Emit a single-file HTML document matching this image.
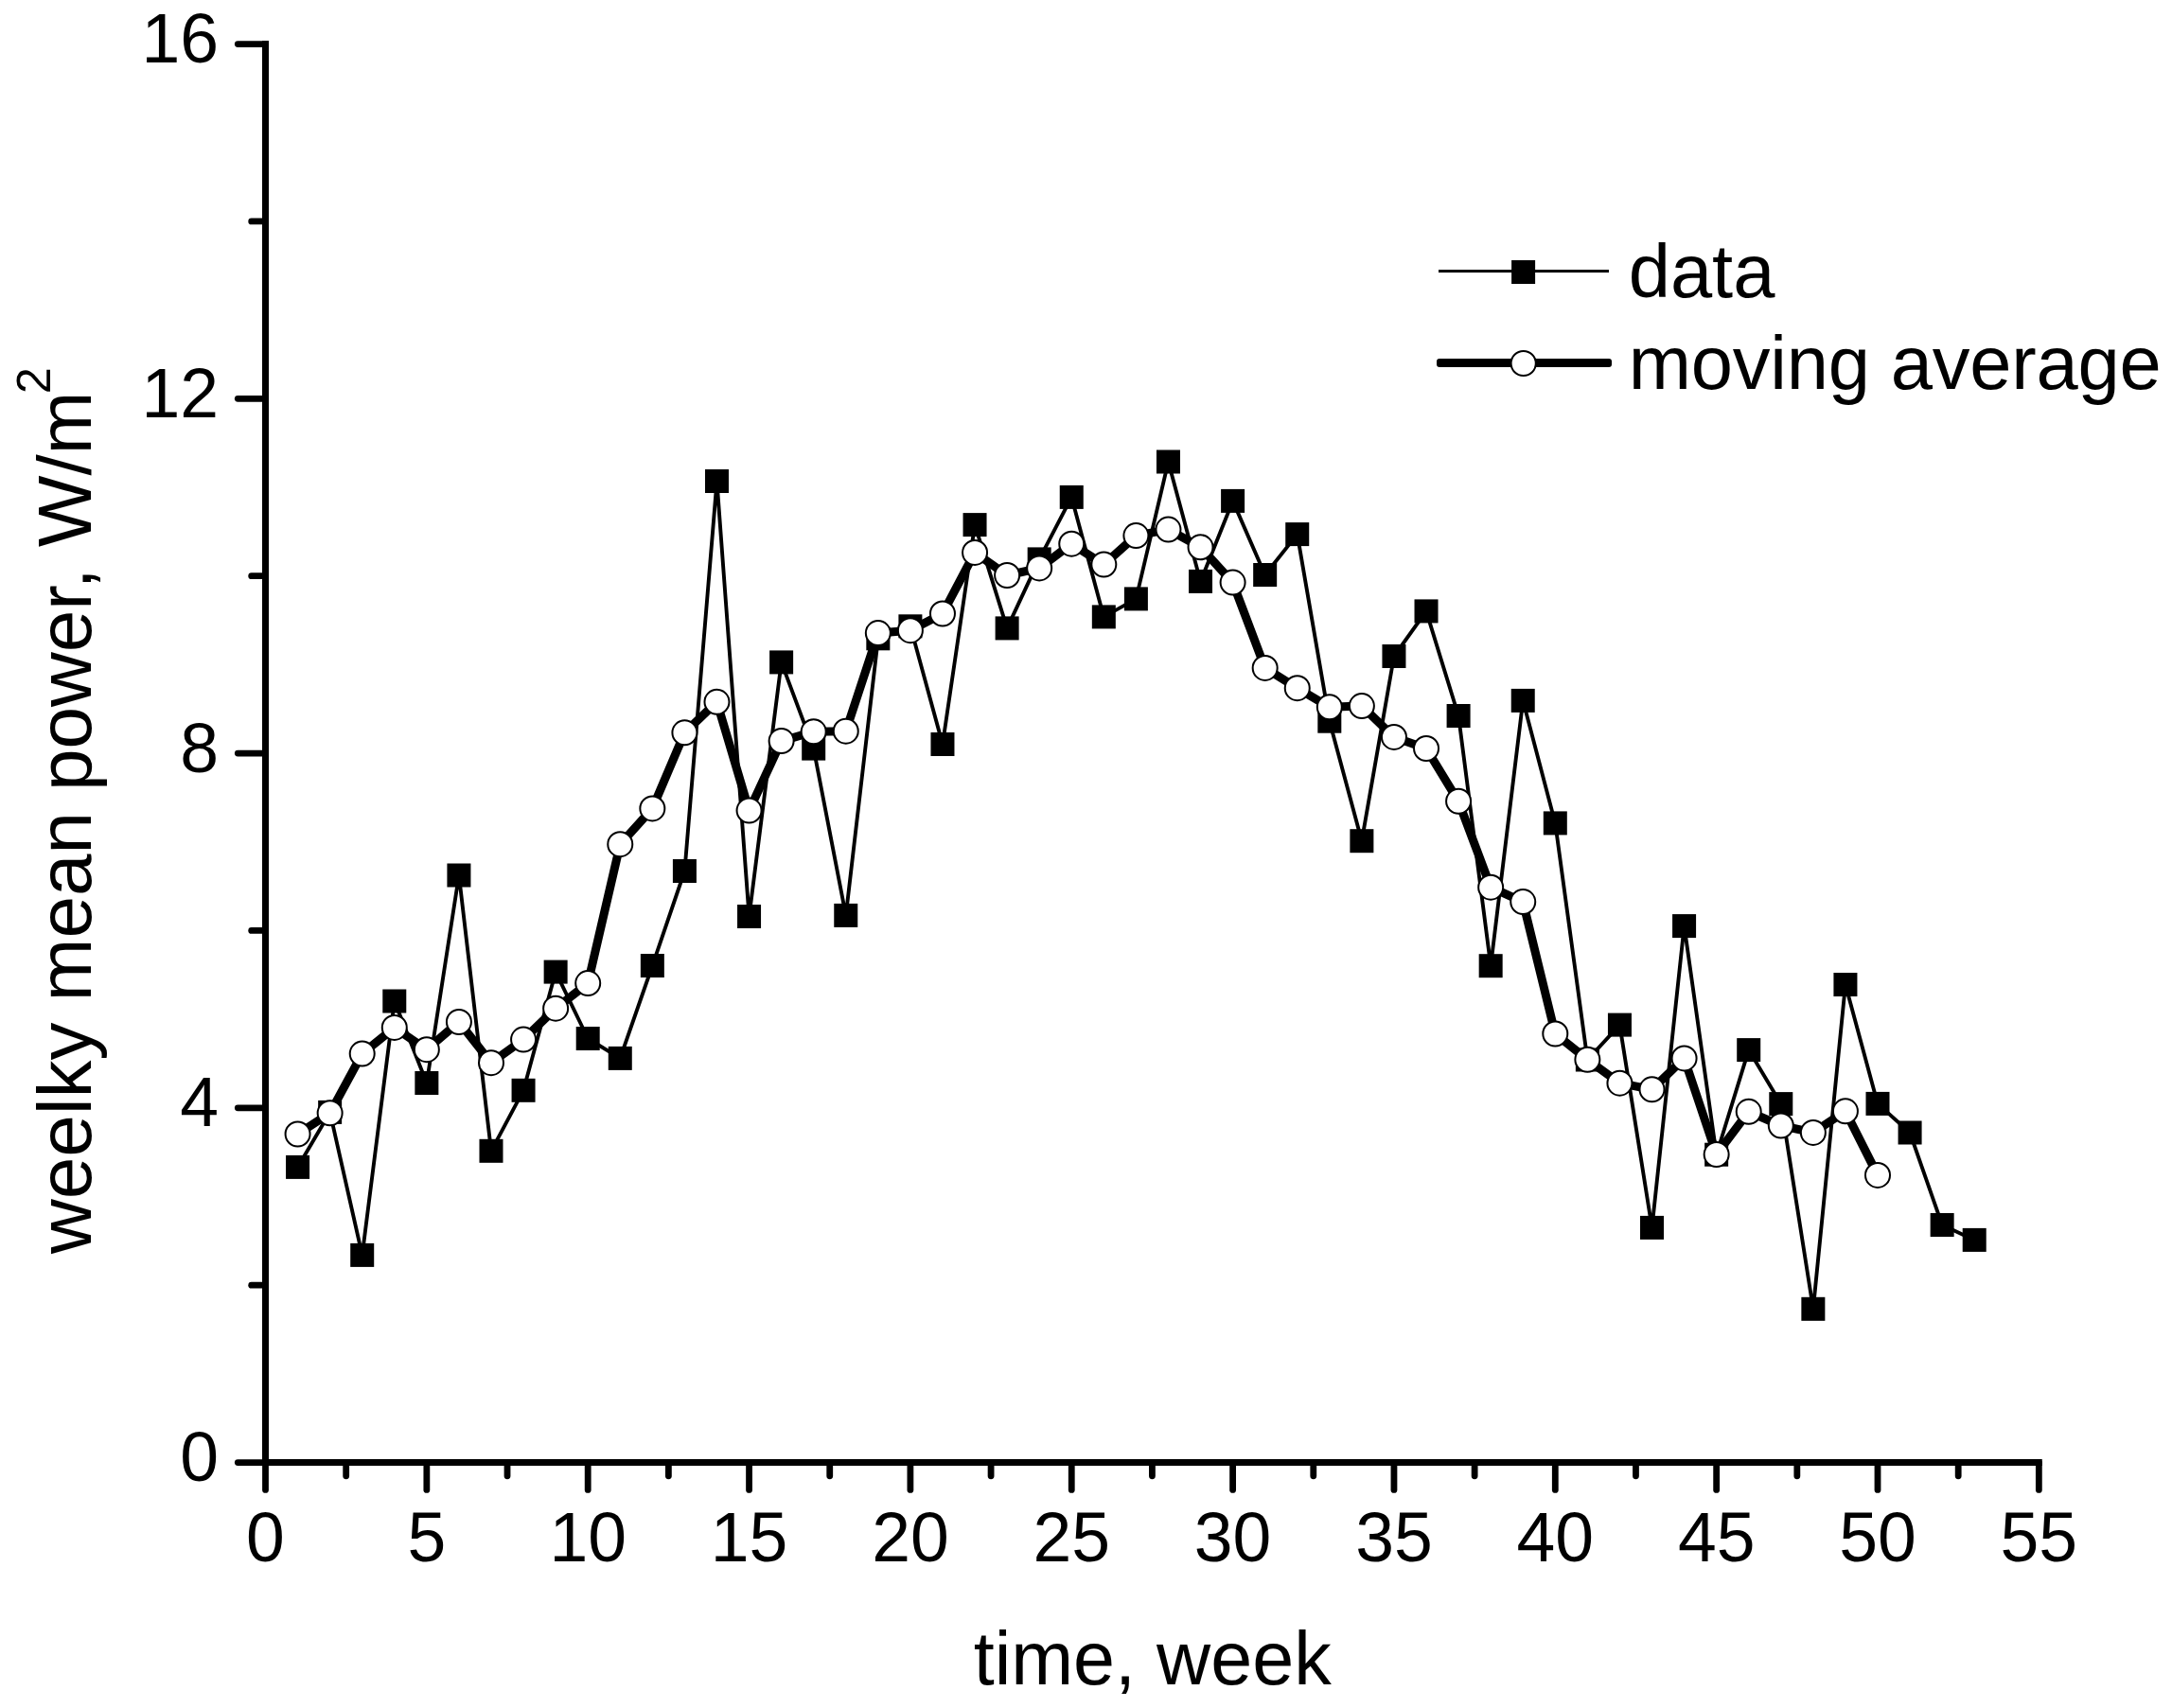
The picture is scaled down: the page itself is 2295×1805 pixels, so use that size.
<!DOCTYPE html>
<html lang="en">
<head>
<meta charset="utf-8">
<title>weekly mean power</title>
<style>
html,body{margin:0;padding:0;background:#fff;}
body{width:2295px;height:1805px;overflow:hidden;}
svg{display:block;}
text{font-family:"Liberation Sans",sans-serif;fill:#000;}
.tk{font-size:73.3px;}
.tt{font-size:80px;}
.lg{font-size:79.5px;}
.sp{font-size:50.4px;}
</style>
</head>
<body>
<svg width="2295" height="1805" viewBox="0 0 2295 1805">
<rect width="2295" height="1805" fill="#fff"/>
<g id="series-data">
<polyline points="314.57,1233.4 348.64,1175.4 382.71,1326.4 416.78,1058.0 450.85,1144.5 484.92,925.0 518.99,1216.3 553.06,1152.3 587.13,1027.1 621.2,1097.5 655.27,1118.4 689.34,1020.5 723.41,920.5 757.48,508.5 791.55,968.5 825.62,699.9 859.69,791.1 893.76,967.4 927.83,674.8 961.9,661.8 995.97,786.5 1030.04,554.6 1064.11,663.9 1098.18,590.9 1132.25,525.4 1166.32,651.9 1200.39,632.9 1234.46,488.0 1268.53,614.4 1302.6,529.4 1336.67,607.5 1370.74,564.6 1404.81,762.2 1438.88,888.7 1472.95,693.5 1507.02,645.9 1541.09,756.5 1575.16,1020.7 1609.23,740.4 1643.3,869.9 1677.37,1120.0 1711.44,1083.1 1745.51,1297.4 1779.58,978.6 1813.65,1220.2 1847.72,1109.6 1881.79,1166.6 1915.86,1383.3 1949.93,1040.5 1984.0,1166.4 2018.07,1197.0 2052.14,1294.5 2086.21,1310.4" fill="none" stroke="#000" stroke-width="3.9" stroke-linejoin="round"/>
<rect x="302.07" y="1220.90" width="25" height="25" fill="#000"/>
<rect x="336.14" y="1162.90" width="25" height="25" fill="#000"/>
<rect x="370.21" y="1313.90" width="25" height="25" fill="#000"/>
<rect x="404.28" y="1045.50" width="25" height="25" fill="#000"/>
<rect x="438.35" y="1132.00" width="25" height="25" fill="#000"/>
<rect x="472.42" y="912.50" width="25" height="25" fill="#000"/>
<rect x="506.49" y="1203.80" width="25" height="25" fill="#000"/>
<rect x="540.56" y="1139.80" width="25" height="25" fill="#000"/>
<rect x="574.63" y="1014.60" width="25" height="25" fill="#000"/>
<rect x="608.70" y="1085.00" width="25" height="25" fill="#000"/>
<rect x="642.77" y="1105.90" width="25" height="25" fill="#000"/>
<rect x="676.84" y="1008.00" width="25" height="25" fill="#000"/>
<rect x="710.91" y="908.00" width="25" height="25" fill="#000"/>
<rect x="744.98" y="496.00" width="25" height="25" fill="#000"/>
<rect x="779.05" y="956.00" width="25" height="25" fill="#000"/>
<rect x="813.12" y="687.40" width="25" height="25" fill="#000"/>
<rect x="847.19" y="778.60" width="25" height="25" fill="#000"/>
<rect x="881.26" y="954.90" width="25" height="25" fill="#000"/>
<rect x="915.33" y="662.30" width="25" height="25" fill="#000"/>
<rect x="949.40" y="649.30" width="25" height="25" fill="#000"/>
<rect x="983.47" y="774.00" width="25" height="25" fill="#000"/>
<rect x="1017.54" y="542.10" width="25" height="25" fill="#000"/>
<rect x="1051.61" y="651.40" width="25" height="25" fill="#000"/>
<rect x="1085.68" y="578.40" width="25" height="25" fill="#000"/>
<rect x="1119.75" y="512.90" width="25" height="25" fill="#000"/>
<rect x="1153.82" y="639.40" width="25" height="25" fill="#000"/>
<rect x="1187.89" y="620.40" width="25" height="25" fill="#000"/>
<rect x="1221.96" y="475.50" width="25" height="25" fill="#000"/>
<rect x="1256.03" y="601.90" width="25" height="25" fill="#000"/>
<rect x="1290.10" y="516.90" width="25" height="25" fill="#000"/>
<rect x="1324.17" y="595.00" width="25" height="25" fill="#000"/>
<rect x="1358.24" y="552.10" width="25" height="25" fill="#000"/>
<rect x="1392.31" y="749.70" width="25" height="25" fill="#000"/>
<rect x="1426.38" y="876.20" width="25" height="25" fill="#000"/>
<rect x="1460.45" y="681.00" width="25" height="25" fill="#000"/>
<rect x="1494.52" y="633.40" width="25" height="25" fill="#000"/>
<rect x="1528.59" y="744.00" width="25" height="25" fill="#000"/>
<rect x="1562.66" y="1008.20" width="25" height="25" fill="#000"/>
<rect x="1596.73" y="727.90" width="25" height="25" fill="#000"/>
<rect x="1630.80" y="857.40" width="25" height="25" fill="#000"/>
<rect x="1664.87" y="1107.50" width="25" height="25" fill="#000"/>
<rect x="1698.94" y="1070.60" width="25" height="25" fill="#000"/>
<rect x="1733.01" y="1284.90" width="25" height="25" fill="#000"/>
<rect x="1767.08" y="966.10" width="25" height="25" fill="#000"/>
<rect x="1801.15" y="1207.70" width="25" height="25" fill="#000"/>
<rect x="1835.22" y="1097.10" width="25" height="25" fill="#000"/>
<rect x="1869.29" y="1154.10" width="25" height="25" fill="#000"/>
<rect x="1903.36" y="1370.80" width="25" height="25" fill="#000"/>
<rect x="1937.43" y="1028.00" width="25" height="25" fill="#000"/>
<rect x="1971.50" y="1153.90" width="25" height="25" fill="#000"/>
<rect x="2005.57" y="1184.50" width="25" height="25" fill="#000"/>
<rect x="2039.64" y="1282.00" width="25" height="25" fill="#000"/>
<rect x="2073.71" y="1297.90" width="25" height="25" fill="#000"/>
</g>
<g id="series-avg">
<polyline points="314.57,1198.5 348.64,1176.3 382.71,1113.6 416.78,1085.9 450.85,1109.2 484.92,1080.0 518.99,1123.2 553.06,1098.6 587.13,1065.7 621.2,1039.1 655.27,892.2 689.34,854.4 723.41,774.3 757.48,741.8 791.55,856.6 825.62,783.1 859.69,773.3 893.76,772.7 927.83,669.1 961.9,666.2 995.97,648.5 1030.04,583.9 1064.11,608.0 1098.18,600.4 1132.25,574.7 1166.32,596.6 1200.39,566.1 1234.46,559.6 1268.53,578.3 1302.6,615.6 1336.67,705.9 1370.74,727.2 1404.81,747.3 1438.88,746.1 1472.95,778.9 1507.02,791.0 1541.09,846.8 1575.16,937.7 1609.23,953.1 1643.3,1092.5 1677.37,1119.8 1711.44,1144.7 1745.51,1151.3 1779.58,1118.4 1813.65,1220.1 1847.72,1174.8 1881.79,1189.5 1915.86,1196.9 1949.93,1174.3 1984.0,1241.9" fill="none" stroke="#000" stroke-width="9" stroke-linejoin="round"/>
<circle cx="314.57" cy="1198.5" r="13.0" fill="#fff" stroke="#000" stroke-width="2"/>
<circle cx="348.64" cy="1176.3" r="13.0" fill="#fff" stroke="#000" stroke-width="2"/>
<circle cx="382.71" cy="1113.6" r="13.0" fill="#fff" stroke="#000" stroke-width="2"/>
<circle cx="416.78" cy="1085.9" r="13.0" fill="#fff" stroke="#000" stroke-width="2"/>
<circle cx="450.85" cy="1109.2" r="13.0" fill="#fff" stroke="#000" stroke-width="2"/>
<circle cx="484.92" cy="1080.0" r="13.0" fill="#fff" stroke="#000" stroke-width="2"/>
<circle cx="518.99" cy="1123.2" r="13.0" fill="#fff" stroke="#000" stroke-width="2"/>
<circle cx="553.06" cy="1098.6" r="13.0" fill="#fff" stroke="#000" stroke-width="2"/>
<circle cx="587.13" cy="1065.7" r="13.0" fill="#fff" stroke="#000" stroke-width="2"/>
<circle cx="621.2" cy="1039.1" r="13.0" fill="#fff" stroke="#000" stroke-width="2"/>
<circle cx="655.27" cy="892.2" r="13.0" fill="#fff" stroke="#000" stroke-width="2"/>
<circle cx="689.34" cy="854.4" r="13.0" fill="#fff" stroke="#000" stroke-width="2"/>
<circle cx="723.41" cy="774.3" r="13.0" fill="#fff" stroke="#000" stroke-width="2"/>
<circle cx="757.48" cy="741.8" r="13.0" fill="#fff" stroke="#000" stroke-width="2"/>
<circle cx="791.55" cy="856.6" r="13.0" fill="#fff" stroke="#000" stroke-width="2"/>
<circle cx="825.62" cy="783.1" r="13.0" fill="#fff" stroke="#000" stroke-width="2"/>
<circle cx="859.69" cy="773.3" r="13.0" fill="#fff" stroke="#000" stroke-width="2"/>
<circle cx="893.76" cy="772.7" r="13.0" fill="#fff" stroke="#000" stroke-width="2"/>
<circle cx="927.83" cy="669.1" r="13.0" fill="#fff" stroke="#000" stroke-width="2"/>
<circle cx="961.9" cy="666.2" r="13.0" fill="#fff" stroke="#000" stroke-width="2"/>
<circle cx="995.97" cy="648.5" r="13.0" fill="#fff" stroke="#000" stroke-width="2"/>
<circle cx="1030.04" cy="583.9" r="13.0" fill="#fff" stroke="#000" stroke-width="2"/>
<circle cx="1064.11" cy="608.0" r="13.0" fill="#fff" stroke="#000" stroke-width="2"/>
<circle cx="1098.18" cy="600.4" r="13.0" fill="#fff" stroke="#000" stroke-width="2"/>
<circle cx="1132.25" cy="574.7" r="13.0" fill="#fff" stroke="#000" stroke-width="2"/>
<circle cx="1166.32" cy="596.6" r="13.0" fill="#fff" stroke="#000" stroke-width="2"/>
<circle cx="1200.39" cy="566.1" r="13.0" fill="#fff" stroke="#000" stroke-width="2"/>
<circle cx="1234.46" cy="559.6" r="13.0" fill="#fff" stroke="#000" stroke-width="2"/>
<circle cx="1268.53" cy="578.3" r="13.0" fill="#fff" stroke="#000" stroke-width="2"/>
<circle cx="1302.6" cy="615.6" r="13.0" fill="#fff" stroke="#000" stroke-width="2"/>
<circle cx="1336.67" cy="705.9" r="13.0" fill="#fff" stroke="#000" stroke-width="2"/>
<circle cx="1370.74" cy="727.2" r="13.0" fill="#fff" stroke="#000" stroke-width="2"/>
<circle cx="1404.81" cy="747.3" r="13.0" fill="#fff" stroke="#000" stroke-width="2"/>
<circle cx="1438.88" cy="746.1" r="13.0" fill="#fff" stroke="#000" stroke-width="2"/>
<circle cx="1472.95" cy="778.9" r="13.0" fill="#fff" stroke="#000" stroke-width="2"/>
<circle cx="1507.02" cy="791.0" r="13.0" fill="#fff" stroke="#000" stroke-width="2"/>
<circle cx="1541.09" cy="846.8" r="13.0" fill="#fff" stroke="#000" stroke-width="2"/>
<circle cx="1575.16" cy="937.7" r="13.0" fill="#fff" stroke="#000" stroke-width="2"/>
<circle cx="1609.23" cy="953.1" r="13.0" fill="#fff" stroke="#000" stroke-width="2"/>
<circle cx="1643.3" cy="1092.5" r="13.0" fill="#fff" stroke="#000" stroke-width="2"/>
<circle cx="1677.37" cy="1119.8" r="13.0" fill="#fff" stroke="#000" stroke-width="2"/>
<circle cx="1711.44" cy="1144.7" r="13.0" fill="#fff" stroke="#000" stroke-width="2"/>
<circle cx="1745.51" cy="1151.3" r="13.0" fill="#fff" stroke="#000" stroke-width="2"/>
<circle cx="1779.58" cy="1118.4" r="13.0" fill="#fff" stroke="#000" stroke-width="2"/>
<circle cx="1813.65" cy="1220.1" r="13.0" fill="#fff" stroke="#000" stroke-width="2"/>
<circle cx="1847.72" cy="1174.8" r="13.0" fill="#fff" stroke="#000" stroke-width="2"/>
<circle cx="1881.79" cy="1189.5" r="13.0" fill="#fff" stroke="#000" stroke-width="2"/>
<circle cx="1915.86" cy="1196.9" r="13.0" fill="#fff" stroke="#000" stroke-width="2"/>
<circle cx="1949.93" cy="1174.3" r="13.0" fill="#fff" stroke="#000" stroke-width="2"/>
<circle cx="1984.0" cy="1241.9" r="13.0" fill="#fff" stroke="#000" stroke-width="2"/>
</g>
<g id="axes" stroke="#000" fill="none">
<line x1="280.5" y1="43.1" x2="280.5" y2="1545.6" stroke-width="7"/>
<line x1="280.5" y1="1545.6" x2="2157.75" y2="1545.6" stroke-width="7"/>
<g stroke-width="6.8" stroke-linecap="round">
<line x1="251.3" y1="1545.6" x2="280.5" y2="1545.6"/>
<line x1="265.7" y1="1358.22" x2="280.5" y2="1358.22"/>
<line x1="251.3" y1="1170.84" x2="280.5" y2="1170.84"/>
<line x1="265.7" y1="983.46" x2="280.5" y2="983.46"/>
<line x1="251.3" y1="796.08" x2="280.5" y2="796.08"/>
<line x1="265.7" y1="608.7" x2="280.5" y2="608.7"/>
<line x1="251.3" y1="421.32" x2="280.5" y2="421.32"/>
<line x1="265.7" y1="233.94" x2="280.5" y2="233.94"/>
<line x1="251.3" y1="46.56" x2="280.5" y2="46.56"/>
<line x1="280.5" y1="1545.6" x2="280.5" y2="1574.4"/>
<line x1="365.68" y1="1545.6" x2="365.68" y2="1559.8"/>
<line x1="450.85" y1="1545.6" x2="450.85" y2="1574.4"/>
<line x1="536.02" y1="1545.6" x2="536.02" y2="1559.8"/>
<line x1="621.2" y1="1545.6" x2="621.2" y2="1574.4"/>
<line x1="706.38" y1="1545.6" x2="706.38" y2="1559.8"/>
<line x1="791.55" y1="1545.6" x2="791.55" y2="1574.4"/>
<line x1="876.73" y1="1545.6" x2="876.73" y2="1559.8"/>
<line x1="961.9" y1="1545.6" x2="961.9" y2="1574.4"/>
<line x1="1047.08" y1="1545.6" x2="1047.08" y2="1559.8"/>
<line x1="1132.25" y1="1545.6" x2="1132.25" y2="1574.4"/>
<line x1="1217.42" y1="1545.6" x2="1217.42" y2="1559.8"/>
<line x1="1302.6" y1="1545.6" x2="1302.6" y2="1574.4"/>
<line x1="1387.78" y1="1545.6" x2="1387.78" y2="1559.8"/>
<line x1="1472.95" y1="1545.6" x2="1472.95" y2="1574.4"/>
<line x1="1558.12" y1="1545.6" x2="1558.12" y2="1559.8"/>
<line x1="1643.3" y1="1545.6" x2="1643.3" y2="1574.4"/>
<line x1="1728.47" y1="1545.6" x2="1728.47" y2="1559.8"/>
<line x1="1813.65" y1="1545.6" x2="1813.65" y2="1574.4"/>
<line x1="1898.83" y1="1545.6" x2="1898.83" y2="1559.8"/>
<line x1="1984.0" y1="1545.6" x2="1984.0" y2="1574.4"/>
<line x1="2069.18" y1="1545.6" x2="2069.18" y2="1559.8"/>
<line x1="2154.35" y1="1545.6" x2="2154.35" y2="1574.4"/>
</g>
</g>
<g id="ylabels" class="tk" text-anchor="end">
<text x="231" y="1565.1">0</text>
<text x="231" y="1190.3">4</text>
<text x="231" y="815.6">8</text>
<text x="231" y="440.8">12</text>
<text x="231" y="66.1">16</text>
</g>
<g id="xlabels" class="tk" text-anchor="middle">
<text x="280.5" y="1649.8">0</text>
<text x="450.85" y="1649.8">5</text>
<text x="621.2" y="1649.8">10</text>
<text x="791.55" y="1649.8">15</text>
<text x="961.9" y="1649.8">20</text>
<text x="1132.25" y="1649.8">25</text>
<text x="1302.6" y="1649.8">30</text>
<text x="1472.95" y="1649.8">35</text>
<text x="1643.3" y="1649.8">40</text>
<text x="1813.65" y="1649.8">45</text>
<text x="1984.0" y="1649.8">50</text>
<text x="2154.35" y="1649.8">55</text>
</g>
<text class="tt" x="1217.7" y="1780.4" text-anchor="middle" style="font-size:79.1px">time, week</text>
<text class="tt" transform="translate(96 1325) rotate(-90)" x="0" y="0">weelky mean power, W/m<tspan class="sp" dx="-2.6" dy="-43.2">2</tspan></text>
<g id="legend">
<line x1="1520" y1="286.5" x2="1700" y2="286.5" stroke="#000" stroke-width="3.2"/>
<rect x="1597.1" y="275" width="25" height="25" fill="#000"/>
<rect x="1518" y="378.9" width="185" height="9" rx="3" ry="3" fill="#000"/>
<circle cx="1609.7" cy="384" r="13.1" fill="#fff" stroke="#000" stroke-width="2"/>
<text class="lg" x="1720.7" y="314.3">data</text>
<text class="lg" x="1720.7" y="411.3" letter-spacing="-0.2">moving average</text>
</g>
</svg>
</body>
</html>
